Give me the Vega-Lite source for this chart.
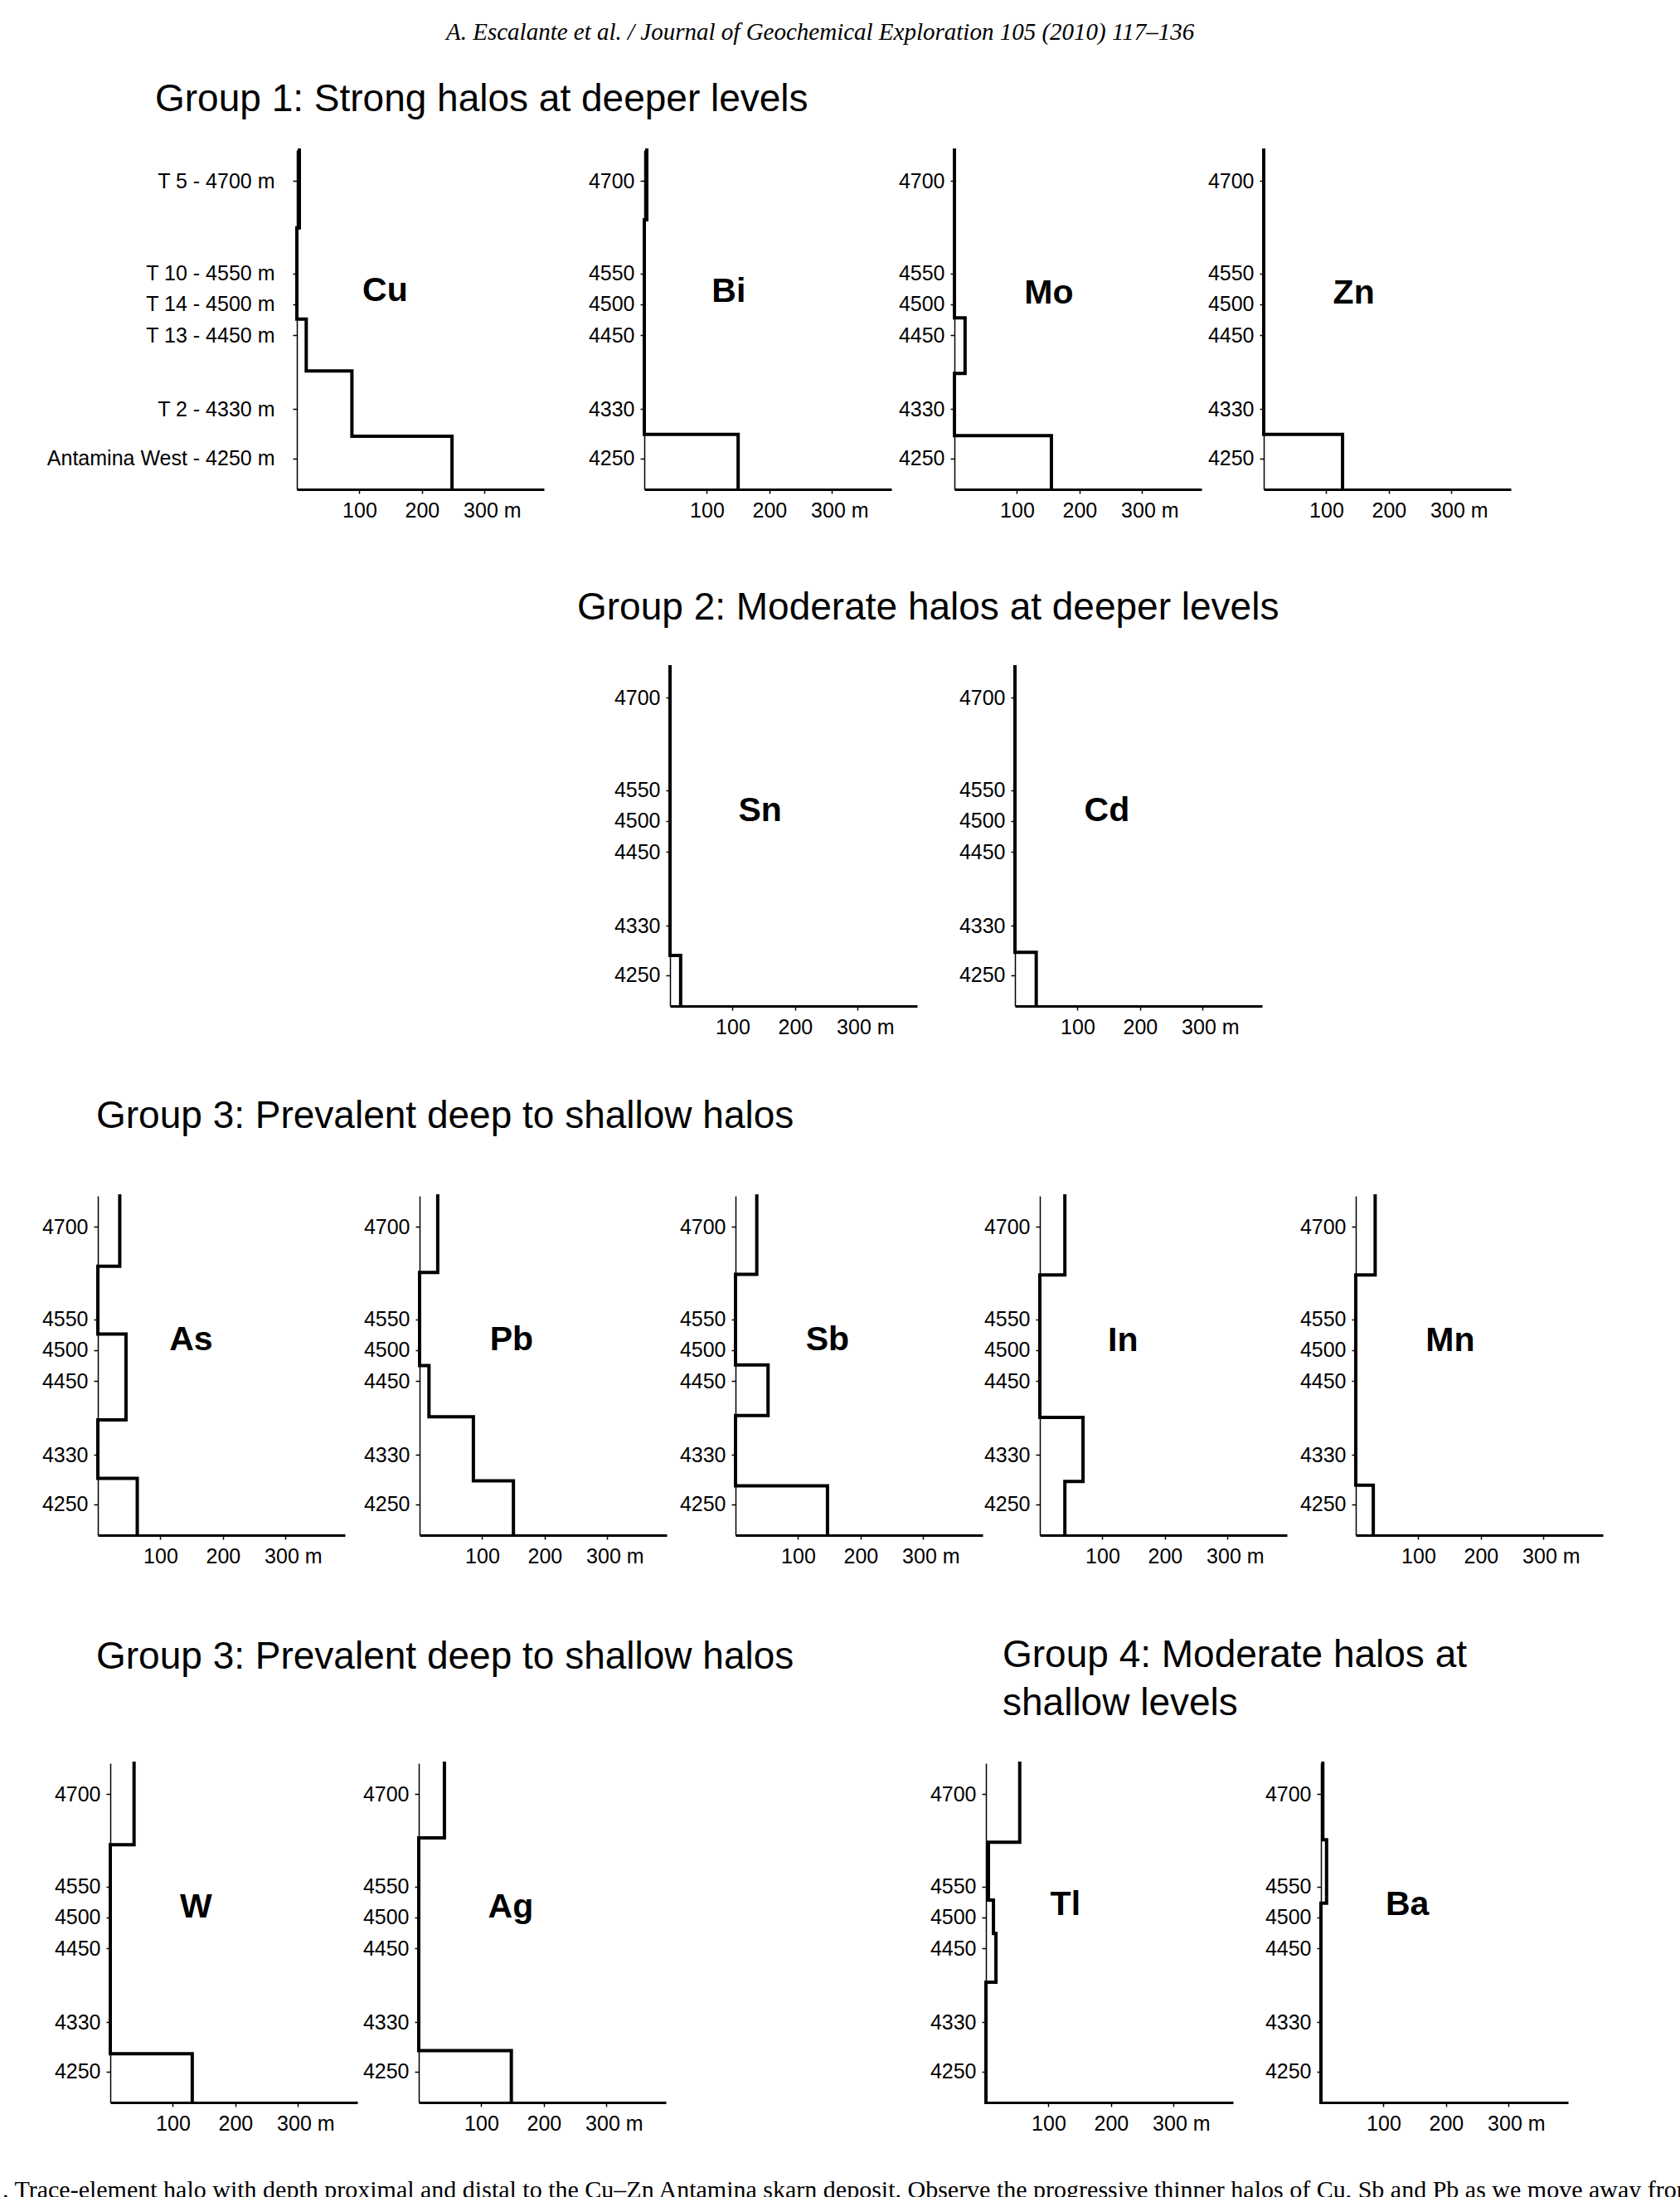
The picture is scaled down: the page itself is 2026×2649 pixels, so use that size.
{
"$schema": "https://vega.github.io/schema/vega-lite/v6.json",
"background": "white",
"padding": {"left": 0, "top": 25, "right": 0, "bottom": 0},
"title": {"text": "A. Escalante et al. / Journal of Geochemical Exploration 105 (2010) 117–136", "font": "Liberation Serif", "fontStyle": "italic", "fontSize": 29, "anchor": "start", "dx": 538, "offset": 43},
"datasets": {
"halo": [
{"el":"Cu","i":0,"w":4,"elev":4750},{"el":"Cu","i":1,"w":4,"elev":4624},{"el":"Cu","i":2,"w":0,"elev":4624},{"el":"Cu","i":3,"w":0,"elev":4476},{"el":"Cu","i":4,"w":15,"elev":4476},{"el":"Cu","i":5,"w":15,"elev":4392},{"el":"Cu","i":6,"w":88,"elev":4392},{"el":"Cu","i":7,"w":88,"elev":4286},{"el":"Cu","i":8,"w":248,"elev":4286},{"el":"Cu","i":9,"w":248,"elev":4200},
{"el":"Bi","i":0,"w":4,"elev":4750},{"el":"Bi","i":1,"w":4,"elev":4637},{"el":"Bi","i":2,"w":0,"elev":4637},{"el":"Bi","i":3,"w":0,"elev":4289},{"el":"Bi","i":4,"w":150,"elev":4289},{"el":"Bi","i":5,"w":150,"elev":4200},
{"el":"Mo","i":0,"w":0,"elev":4750},{"el":"Mo","i":1,"w":0,"elev":4478},{"el":"Mo","i":2,"w":17,"elev":4478},{"el":"Mo","i":3,"w":17,"elev":4388},{"el":"Mo","i":4,"w":0,"elev":4388},{"el":"Mo","i":5,"w":0,"elev":4287},{"el":"Mo","i":6,"w":155,"elev":4287},{"el":"Mo","i":7,"w":155,"elev":4200},
{"el":"Zn","i":0,"w":0,"elev":4750},{"el":"Zn","i":1,"w":0,"elev":4289},{"el":"Zn","i":2,"w":126,"elev":4289},{"el":"Zn","i":3,"w":126,"elev":4200},
{"el":"Sn","i":0,"w":0,"elev":4750},{"el":"Sn","i":1,"w":0,"elev":4282},{"el":"Sn","i":2,"w":17,"elev":4282},{"el":"Sn","i":3,"w":17,"elev":4200},
{"el":"Cd","i":0,"w":0,"elev":4750},{"el":"Cd","i":1,"w":0,"elev":4287},{"el":"Cd","i":2,"w":34,"elev":4287},{"el":"Cd","i":3,"w":34,"elev":4200},
{"el":"As","i":0,"w":35,"elev":4750},{"el":"As","i":1,"w":35,"elev":4636},{"el":"As","i":2,"w":0,"elev":4636},{"el":"As","i":3,"w":0,"elev":4526},{"el":"As","i":4,"w":45,"elev":4526},{"el":"As","i":5,"w":45,"elev":4387},{"el":"As","i":6,"w":0,"elev":4387},{"el":"As","i":7,"w":0,"elev":4292},{"el":"As","i":8,"w":63,"elev":4292},{"el":"As","i":9,"w":63,"elev":4200},
{"el":"Pb","i":0,"w":29,"elev":4750},{"el":"Pb","i":1,"w":29,"elev":4626},{"el":"Pb","i":2,"w":0,"elev":4626},{"el":"Pb","i":3,"w":0,"elev":4475},{"el":"Pb","i":4,"w":15,"elev":4475},{"el":"Pb","i":5,"w":15,"elev":4392},{"el":"Pb","i":6,"w":86,"elev":4392},{"el":"Pb","i":7,"w":86,"elev":4288},{"el":"Pb","i":8,"w":150,"elev":4288},{"el":"Pb","i":9,"w":150,"elev":4200},
{"el":"Sb","i":0,"w":34,"elev":4750},{"el":"Sb","i":1,"w":34,"elev":4623},{"el":"Sb","i":2,"w":0,"elev":4623},{"el":"Sb","i":3,"w":0,"elev":4476},{"el":"Sb","i":4,"w":52,"elev":4476},{"el":"Sb","i":5,"w":52,"elev":4394},{"el":"Sb","i":6,"w":0,"elev":4394},{"el":"Sb","i":7,"w":0,"elev":4280},{"el":"Sb","i":8,"w":147,"elev":4280},{"el":"Sb","i":9,"w":147,"elev":4200},
{"el":"In","i":0,"w":40,"elev":4750},{"el":"In","i":1,"w":40,"elev":4622},{"el":"In","i":2,"w":0,"elev":4622},{"el":"In","i":3,"w":0,"elev":4391},{"el":"In","i":4,"w":69,"elev":4391},{"el":"In","i":5,"w":69,"elev":4287},{"el":"In","i":6,"w":40,"elev":4287},{"el":"In","i":7,"w":40,"elev":4200},
{"el":"Mn","i":0,"w":31,"elev":4750},{"el":"Mn","i":1,"w":31,"elev":4622},{"el":"Mn","i":2,"w":0,"elev":4622},{"el":"Mn","i":3,"w":0,"elev":4281},{"el":"Mn","i":4,"w":28,"elev":4281},{"el":"Mn","i":5,"w":28,"elev":4200},
{"el":"W","i":0,"w":38,"elev":4750},{"el":"W","i":1,"w":38,"elev":4618},{"el":"W","i":2,"w":0,"elev":4618},{"el":"W","i":3,"w":0,"elev":4279},{"el":"W","i":4,"w":131,"elev":4279},{"el":"W","i":5,"w":131,"elev":4200},
{"el":"Ag","i":0,"w":41,"elev":4750},{"el":"Ag","i":1,"w":41,"elev":4629},{"el":"Ag","i":2,"w":0,"elev":4629},{"el":"Ag","i":3,"w":0,"elev":4284},{"el":"Ag","i":4,"w":148,"elev":4284},{"el":"Ag","i":5,"w":148,"elev":4200},
{"el":"Tl","i":0,"w":54,"elev":4750},{"el":"Tl","i":1,"w":54,"elev":4622},{"el":"Tl","i":2,"w":4,"elev":4622},{"el":"Tl","i":3,"w":4,"elev":4528},{"el":"Tl","i":4,"w":12,"elev":4528},{"el":"Tl","i":5,"w":12,"elev":4474},{"el":"Tl","i":6,"w":16,"elev":4474},{"el":"Tl","i":7,"w":16,"elev":4395},{"el":"Tl","i":8,"w":0,"elev":4395},{"el":"Tl","i":9,"w":0,"elev":4200},
{"el":"Ba","i":0,"w":3,"elev":4750},{"el":"Ba","i":1,"w":3,"elev":4626},{"el":"Ba","i":2,"w":9,"elev":4626},{"el":"Ba","i":3,"w":9,"elev":4523},{"el":"Ba","i":4,"w":0,"elev":4523},{"el":"Ba","i":5,"w":0,"elev":4200}
],
"labels": [{"el":"Cu"},{"el":"Bi"},{"el":"Mo"},{"el":"Zn"},{"el":"Sn"},{"el":"Cd"},{"el":"As"},{"el":"Pb"},{"el":"Sb"},{"el":"In"},{"el":"Mn"},{"el":"W"},{"el":"Ag"},{"el":"Tl"},{"el":"Ba"}]
},
"spacing": 0,
"vconcat": [
{"title": {"text": "Group 1: Strong halos at deeper levels", "dx": 187, "offset": 29}, "spacing": 0, "hconcat": [
{"width": 1, "height": 1, "data": {"values": []}, "mark": "point"},
{"width": 298, "height": 409, "layer": [
{"data": {"name": "halo"}, "transform": [{"filter": "datum.el === 'Cu'"}], "mark": {"type": "line", "color": "black", "strokeWidth": 4, "strokeJoin": "miter", "strokeCap": "square"},
"encoding": {"x": {"field": "w", "type": "quantitative", "scale": {"domain": [0, 395], "nice": false}, "axis": {"title": null, "values": [100, 200, 300], "labelExpr": "datum.value === 300 ? '300 m' : datum.label", "labelOffset": {"condition": {"test": "datum.value === 300", "value": 9}, "value": 0}, "minExtent": 120, "maxExtent": 120}},
"y": {"field": "elev", "type": "quantitative", "scale": {"domain": [4200, 4750], "nice": false, "zero": false}, "axis": {"title": null, "format": "d", "values": [4250, 4330, 4450, 4500, 4550, 4700], "labelPadding": 22, "labelLimit": 400, "labelExpr": "datum.value === 4700 ? 'T 5 - 4700 m' : datum.value === 4550 ? 'T 10 - 4550 m' : datum.value === 4500 ? 'T 14 - 4500 m' : datum.value === 4450 ? 'T 13 - 4450 m' : datum.value === 4330 ? 'T 2 - 4330 m' : 'Antamina West - 4250 m'", "minExtent": 357, "maxExtent": 357}},
"order": {"field": "i", "type": "quantitative"}}},
{"data": {"name": "labels"}, "transform": [{"filter": "datum.el === 'Cu'"}], "mark": {"type": "text", "font": "Liberation Sans", "fontWeight": "bold", "fontSize": 41, "align": "center", "baseline": "middle", "color": "black"},
"encoding": {"x": {"datum": 141}, "y": {"datum": 4522}, "text": {"field": "el"}}}
]},
{"width": 298, "height": 409, "layer": [
{"data": {"name": "halo"}, "transform": [{"filter": "datum.el === 'Bi'"}], "mark": {"type": "line", "color": "black", "strokeWidth": 4, "strokeJoin": "miter", "strokeCap": "square"},
"encoding": {"x": {"field": "w", "type": "quantitative", "scale": {"domain": [0, 395], "nice": false}, "axis": {"title": null, "values": [100, 200, 300], "labelExpr": "datum.value === 300 ? '300 m' : datum.label", "labelOffset": {"condition": {"test": "datum.value === 300", "value": 9}, "value": 0}, "minExtent": 120, "maxExtent": 120}},
"y": {"field": "elev", "type": "quantitative", "scale": {"domain": [4200, 4750], "nice": false, "zero": false}, "axis": {"title": null, "format": "d", "values": [4250, 4330, 4450, 4500, 4550, 4700], "minExtent": 121, "maxExtent": 121}},
"order": {"field": "i", "type": "quantitative"}}},
{"data": {"name": "labels"}, "transform": [{"filter": "datum.el === 'Bi'"}], "mark": {"type": "text", "font": "Liberation Sans", "fontWeight": "bold", "fontSize": 41, "align": "center", "baseline": "middle", "color": "black"},
"encoding": {"x": {"datum": 135}, "y": {"datum": 4520}, "text": {"field": "el"}}}
]},
{"width": 298, "height": 409, "layer": [
{"data": {"name": "halo"}, "transform": [{"filter": "datum.el === 'Mo'"}], "mark": {"type": "line", "color": "black", "strokeWidth": 4, "strokeJoin": "miter", "strokeCap": "square"},
"encoding": {"x": {"field": "w", "type": "quantitative", "scale": {"domain": [0, 395], "nice": false}, "axis": {"title": null, "values": [100, 200, 300], "labelExpr": "datum.value === 300 ? '300 m' : datum.label", "labelOffset": {"condition": {"test": "datum.value === 300", "value": 9}, "value": 0}, "minExtent": 120, "maxExtent": 120}},
"y": {"field": "elev", "type": "quantitative", "scale": {"domain": [4200, 4750], "nice": false, "zero": false}, "axis": {"title": null, "format": "d", "values": [4250, 4330, 4450, 4500, 4550, 4700], "minExtent": 76, "maxExtent": 76}},
"order": {"field": "i", "type": "quantitative"}}},
{"data": {"name": "labels"}, "transform": [{"filter": "datum.el === 'Mo'"}], "mark": {"type": "text", "font": "Liberation Sans", "fontWeight": "bold", "fontSize": 41, "align": "center", "baseline": "middle", "color": "black"},
"encoding": {"x": {"datum": 151}, "y": {"datum": 4518}, "text": {"field": "el"}}}
]},
{"width": 298, "height": 409, "layer": [
{"data": {"name": "halo"}, "transform": [{"filter": "datum.el === 'Zn'"}], "mark": {"type": "line", "color": "black", "strokeWidth": 4, "strokeJoin": "miter", "strokeCap": "square"},
"encoding": {"x": {"field": "w", "type": "quantitative", "scale": {"domain": [0, 395], "nice": false}, "axis": {"title": null, "values": [100, 200, 300], "labelExpr": "datum.value === 300 ? '300 m' : datum.label", "labelOffset": {"condition": {"test": "datum.value === 300", "value": 9}, "value": 0}, "minExtent": 120, "maxExtent": 120}},
"y": {"field": "elev", "type": "quantitative", "scale": {"domain": [4200, 4750], "nice": false, "zero": false}, "axis": {"title": null, "format": "d", "values": [4250, 4330, 4450, 4500, 4550, 4700], "minExtent": 75, "maxExtent": 75}},
"order": {"field": "i", "type": "quantitative"}}},
{"data": {"name": "labels"}, "transform": [{"filter": "datum.el === 'Zn'"}], "mark": {"type": "text", "font": "Liberation Sans", "fontWeight": "bold", "fontSize": 41, "align": "center", "baseline": "middle", "color": "black"},
"encoding": {"x": {"datum": 144}, "y": {"datum": 4518}, "text": {"field": "el"}}}
]}
]},
{"title": {"text": "Group 2: Moderate halos at deeper levels", "dx": 696, "offset": 39}, "spacing": 0, "hconcat": [
{"width": 690, "height": 1, "data": {"values": []}, "mark": "point"},
{"width": 298, "height": 409, "layer": [
{"data": {"name": "halo"}, "transform": [{"filter": "datum.el === 'Sn'"}], "mark": {"type": "line", "color": "black", "strokeWidth": 4, "strokeJoin": "miter", "strokeCap": "square"},
"encoding": {"x": {"field": "w", "type": "quantitative", "scale": {"domain": [0, 395], "nice": false}, "axis": {"title": null, "values": [100, 200, 300], "labelExpr": "datum.value === 300 ? '300 m' : datum.label", "labelOffset": {"condition": {"test": "datum.value === 300", "value": 9}, "value": 0}, "minExtent": 110, "maxExtent": 110}},
"y": {"field": "elev", "type": "quantitative", "scale": {"domain": [4200, 4750], "nice": false, "zero": false}, "axis": {"title": null, "format": "d", "values": [4250, 4330, 4450, 4500, 4550, 4700], "minExtent": 118, "maxExtent": 118}},
"order": {"field": "i", "type": "quantitative"}}},
{"data": {"name": "labels"}, "transform": [{"filter": "datum.el === 'Sn'"}], "mark": {"type": "text", "font": "Liberation Sans", "fontWeight": "bold", "fontSize": 41, "align": "center", "baseline": "middle", "color": "black"},
"encoding": {"x": {"datum": 144}, "y": {"datum": 4516}, "text": {"field": "el"}}}
]},
{"width": 298, "height": 409, "layer": [
{"data": {"name": "halo"}, "transform": [{"filter": "datum.el === 'Cd'"}], "mark": {"type": "line", "color": "black", "strokeWidth": 4, "strokeJoin": "miter", "strokeCap": "square"},
"encoding": {"x": {"field": "w", "type": "quantitative", "scale": {"domain": [0, 395], "nice": false}, "axis": {"title": null, "values": [100, 200, 300], "labelExpr": "datum.value === 300 ? '300 m' : datum.label", "labelOffset": {"condition": {"test": "datum.value === 300", "value": 9}, "value": 0}, "minExtent": 110, "maxExtent": 110}},
"y": {"field": "elev", "type": "quantitative", "scale": {"domain": [4200, 4750], "nice": false, "zero": false}, "axis": {"title": null, "format": "d", "values": [4250, 4330, 4450, 4500, 4550, 4700], "minExtent": 118, "maxExtent": 118}},
"order": {"field": "i", "type": "quantitative"}}},
{"data": {"name": "labels"}, "transform": [{"filter": "datum.el === 'Cd'"}], "mark": {"type": "text", "font": "Liberation Sans", "fontWeight": "bold", "fontSize": 41, "align": "center", "baseline": "middle", "color": "black"},
"encoding": {"x": {"datum": 147}, "y": {"datum": 4516}, "text": {"field": "el"}}}
]}
]},
{"title": {"text": "Group 3: Prevalent deep to shallow halos", "dx": 116, "offset": 64}, "spacing": 0, "hconcat": [
{"width": 1, "height": 1, "data": {"values": []}, "mark": "point"},
{"width": 298, "height": 409, "layer": [
{"data": {"name": "halo"}, "transform": [{"filter": "datum.el === 'As'"}], "mark": {"type": "line", "color": "black", "strokeWidth": 4, "strokeJoin": "miter", "strokeCap": "square"},
"encoding": {"x": {"field": "w", "type": "quantitative", "scale": {"domain": [0, 395], "nice": false}, "axis": {"title": null, "values": [100, 200, 300], "labelExpr": "datum.value === 300 ? '300 m' : datum.label", "labelOffset": {"condition": {"test": "datum.value === 300", "value": 9}, "value": 0}, "minExtent": 122, "maxExtent": 122}},
"y": {"field": "elev", "type": "quantitative", "scale": {"domain": [4200, 4750], "nice": false, "zero": false}, "axis": {"title": null, "format": "d", "values": [4250, 4330, 4450, 4500, 4550, 4700], "minExtent": 117, "maxExtent": 117}},
"order": {"field": "i", "type": "quantitative"}}},
{"data": {"name": "labels"}, "transform": [{"filter": "datum.el === 'As'"}], "mark": {"type": "text", "font": "Liberation Sans", "fontWeight": "bold", "fontSize": 41, "align": "center", "baseline": "middle", "color": "black"},
"encoding": {"x": {"datum": 149}, "y": {"datum": 4516}, "text": {"field": "el"}}}
]},
{"width": 298, "height": 409, "layer": [
{"data": {"name": "halo"}, "transform": [{"filter": "datum.el === 'Pb'"}], "mark": {"type": "line", "color": "black", "strokeWidth": 4, "strokeJoin": "miter", "strokeCap": "square"},
"encoding": {"x": {"field": "w", "type": "quantitative", "scale": {"domain": [0, 395], "nice": false}, "axis": {"title": null, "values": [100, 200, 300], "labelExpr": "datum.value === 300 ? '300 m' : datum.label", "labelOffset": {"condition": {"test": "datum.value === 300", "value": 9}, "value": 0}, "minExtent": 122, "maxExtent": 122}},
"y": {"field": "elev", "type": "quantitative", "scale": {"domain": [4200, 4750], "nice": false, "zero": false}, "axis": {"title": null, "format": "d", "values": [4250, 4330, 4450, 4500, 4550, 4700], "minExtent": 90, "maxExtent": 90}},
"order": {"field": "i", "type": "quantitative"}}},
{"data": {"name": "labels"}, "transform": [{"filter": "datum.el === 'Pb'"}], "mark": {"type": "text", "font": "Liberation Sans", "fontWeight": "bold", "fontSize": 41, "align": "center", "baseline": "middle", "color": "black"},
"encoding": {"x": {"datum": 147}, "y": {"datum": 4516}, "text": {"field": "el"}}}
]},
{"width": 298, "height": 409, "layer": [
{"data": {"name": "halo"}, "transform": [{"filter": "datum.el === 'Sb'"}], "mark": {"type": "line", "color": "black", "strokeWidth": 4, "strokeJoin": "miter", "strokeCap": "square"},
"encoding": {"x": {"field": "w", "type": "quantitative", "scale": {"domain": [0, 395], "nice": false}, "axis": {"title": null, "values": [100, 200, 300], "labelExpr": "datum.value === 300 ? '300 m' : datum.label", "labelOffset": {"condition": {"test": "datum.value === 300", "value": 9}, "value": 0}, "minExtent": 122, "maxExtent": 122}},
"y": {"field": "elev", "type": "quantitative", "scale": {"domain": [4200, 4750], "nice": false, "zero": false}, "axis": {"title": null, "format": "d", "values": [4250, 4330, 4450, 4500, 4550, 4700], "minExtent": 83, "maxExtent": 83}},
"order": {"field": "i", "type": "quantitative"}}},
{"data": {"name": "labels"}, "transform": [{"filter": "datum.el === 'Sb'"}], "mark": {"type": "text", "font": "Liberation Sans", "fontWeight": "bold", "fontSize": 41, "align": "center", "baseline": "middle", "color": "black"},
"encoding": {"x": {"datum": 147}, "y": {"datum": 4516}, "text": {"field": "el"}}}
]},
{"width": 298, "height": 409, "layer": [
{"data": {"name": "halo"}, "transform": [{"filter": "datum.el === 'In'"}], "mark": {"type": "line", "color": "black", "strokeWidth": 4, "strokeJoin": "miter", "strokeCap": "square"},
"encoding": {"x": {"field": "w", "type": "quantitative", "scale": {"domain": [0, 395], "nice": false}, "axis": {"title": null, "values": [100, 200, 300], "labelExpr": "datum.value === 300 ? '300 m' : datum.label", "labelOffset": {"condition": {"test": "datum.value === 300", "value": 9}, "value": 0}, "minExtent": 122, "maxExtent": 122}},
"y": {"field": "elev", "type": "quantitative", "scale": {"domain": [4200, 4750], "nice": false, "zero": false}, "axis": {"title": null, "format": "d", "values": [4250, 4330, 4450, 4500, 4550, 4700], "minExtent": 69, "maxExtent": 69}},
"order": {"field": "i", "type": "quantitative"}}},
{"data": {"name": "labels"}, "transform": [{"filter": "datum.el === 'In'"}], "mark": {"type": "text", "font": "Liberation Sans", "fontWeight": "bold", "fontSize": 41, "align": "center", "baseline": "middle", "color": "black"},
"encoding": {"x": {"datum": 133}, "y": {"datum": 4514}, "text": {"field": "el"}}}
]},
{"width": 298, "height": 409, "layer": [
{"data": {"name": "halo"}, "transform": [{"filter": "datum.el === 'Mn'"}], "mark": {"type": "line", "color": "black", "strokeWidth": 4, "strokeJoin": "miter", "strokeCap": "square"},
"encoding": {"x": {"field": "w", "type": "quantitative", "scale": {"domain": [0, 395], "nice": false}, "axis": {"title": null, "values": [100, 200, 300], "labelExpr": "datum.value === 300 ? '300 m' : datum.label", "labelOffset": {"condition": {"test": "datum.value === 300", "value": 9}, "value": 0}, "minExtent": 122, "maxExtent": 122}},
"y": {"field": "elev", "type": "quantitative", "scale": {"domain": [4200, 4750], "nice": false, "zero": false}, "axis": {"title": null, "format": "d", "values": [4250, 4330, 4450, 4500, 4550, 4700], "minExtent": 83, "maxExtent": 83}},
"order": {"field": "i", "type": "quantitative"}}},
{"data": {"name": "labels"}, "transform": [{"filter": "datum.el === 'Mn'"}], "mark": {"type": "text", "font": "Liberation Sans", "fontWeight": "bold", "fontSize": 41, "align": "center", "baseline": "middle", "color": "black"},
"encoding": {"x": {"datum": 151}, "y": {"datum": 4514}, "text": {"field": "el"}}}
]}
]},
{"title": {"text": ". Trace-element halo with depth proximal and distal to the Cu–Zn Antamina skarn deposit. Observe the progressive thinner halos of Cu, Sb and Pb as we move away from the deposit.", "orient": "bottom", "font": "Liberation Serif", "fontSize": 30, "dx": 3, "offset": 46}, "spacing": 0, "hconcat": [
{"title": {"text": "Group 3: Prevalent deep to shallow halos", "dx": 116, "offset": 96}, "spacing": 0, "hconcat": [
{"width": 1, "height": 1, "data": {"values": []}, "mark": "point"},
{"width": 298, "height": 409, "layer": [
{"data": {"name": "halo"}, "transform": [{"filter": "datum.el === 'W'"}], "mark": {"type": "line", "color": "black", "strokeWidth": 4, "strokeJoin": "miter", "strokeCap": "square"},
"encoding": {"x": {"field": "w", "type": "quantitative", "scale": {"domain": [0, 395], "nice": false}, "axis": {"title": null, "values": [100, 200, 300], "labelExpr": "datum.value === 300 ? '300 m' : datum.label", "labelOffset": {"condition": {"test": "datum.value === 300", "value": 9}, "value": 0}, "minExtent": 45, "maxExtent": 45}},
"y": {"field": "elev", "type": "quantitative", "scale": {"domain": [4200, 4750], "nice": false, "zero": false}, "axis": {"title": null, "format": "d", "values": [4250, 4330, 4450, 4500, 4550, 4700], "minExtent": 132, "maxExtent": 132}},
"order": {"field": "i", "type": "quantitative"}}},
{"data": {"name": "labels"}, "transform": [{"filter": "datum.el === 'W'"}], "mark": {"type": "text", "font": "Liberation Sans", "fontWeight": "bold", "fontSize": 41, "align": "center", "baseline": "middle", "color": "black"},
"encoding": {"x": {"datum": 137}, "y": {"datum": 4516}, "text": {"field": "el"}}}
]},
{"width": 298, "height": 409, "layer": [
{"data": {"name": "halo"}, "transform": [{"filter": "datum.el === 'Ag'"}], "mark": {"type": "line", "color": "black", "strokeWidth": 4, "strokeJoin": "miter", "strokeCap": "square"},
"encoding": {"x": {"field": "w", "type": "quantitative", "scale": {"domain": [0, 395], "nice": false}, "axis": {"title": null, "values": [100, 200, 300], "labelExpr": "datum.value === 300 ? '300 m' : datum.label", "labelOffset": {"condition": {"test": "datum.value === 300", "value": 9}, "value": 0}, "minExtent": 45, "maxExtent": 45}},
"y": {"field": "elev", "type": "quantitative", "scale": {"domain": [4200, 4750], "nice": false, "zero": false}, "axis": {"title": null, "format": "d", "values": [4250, 4330, 4450, 4500, 4550, 4700], "minExtent": 74, "maxExtent": 74}},
"order": {"field": "i", "type": "quantitative"}}},
{"data": {"name": "labels"}, "transform": [{"filter": "datum.el === 'Ag'"}], "mark": {"type": "text", "font": "Liberation Sans", "fontWeight": "bold", "fontSize": 41, "align": "center", "baseline": "middle", "color": "black"},
"encoding": {"x": {"datum": 147}, "y": {"datum": 4516}, "text": {"field": "el"}}}
]}
]},
{"title": {"text": ["Group 4: Moderate halos at", "shallow levels"], "dx": 251, "lineHeight": 58, "offset": 40}, "spacing": 0, "hconcat": [
{"width": 298, "height": 409, "layer": [
{"data": {"name": "halo"}, "transform": [{"filter": "datum.el === 'Tl'"}], "mark": {"type": "line", "color": "black", "strokeWidth": 4, "strokeJoin": "miter", "strokeCap": "square"},
"encoding": {"x": {"field": "w", "type": "quantitative", "scale": {"domain": [0, 395], "nice": false}, "axis": {"title": null, "values": [100, 200, 300], "labelExpr": "datum.value === 300 ? '300 m' : datum.label", "labelOffset": {"condition": {"test": "datum.value === 300", "value": 9}, "value": 0}, "minExtent": 45, "maxExtent": 45}},
"y": {"field": "elev", "type": "quantitative", "scale": {"domain": [4200, 4750], "nice": false, "zero": false}, "axis": {"title": null, "format": "d", "values": [4250, 4330, 4450, 4500, 4550, 4700], "minExtent": 231, "maxExtent": 231}},
"order": {"field": "i", "type": "quantitative"}}},
{"data": {"name": "labels"}, "transform": [{"filter": "datum.el === 'Tl'"}], "mark": {"type": "text", "font": "Liberation Sans", "fontWeight": "bold", "fontSize": 41, "align": "center", "baseline": "middle", "color": "black"},
"encoding": {"x": {"datum": 127}, "y": {"datum": 4520}, "text": {"field": "el"}}}
]},
{"width": 298, "height": 409, "layer": [
{"data": {"name": "halo"}, "transform": [{"filter": "datum.el === 'Ba'"}], "mark": {"type": "line", "color": "black", "strokeWidth": 4, "strokeJoin": "miter", "strokeCap": "square"},
"encoding": {"x": {"field": "w", "type": "quantitative", "scale": {"domain": [0, 395], "nice": false}, "axis": {"title": null, "values": [100, 200, 300], "labelExpr": "datum.value === 300 ? '300 m' : datum.label", "labelOffset": {"condition": {"test": "datum.value === 300", "value": 9}, "value": 0}, "minExtent": 45, "maxExtent": 45}},
"y": {"field": "elev", "type": "quantitative", "scale": {"domain": [4200, 4750], "nice": false, "zero": false}, "axis": {"title": null, "format": "d", "values": [4250, 4330, 4450, 4500, 4550, 4700], "minExtent": 106, "maxExtent": 106}},
"order": {"field": "i", "type": "quantitative"}}},
{"data": {"name": "labels"}, "transform": [{"filter": "datum.el === 'Ba'"}], "mark": {"type": "text", "font": "Liberation Sans", "fontWeight": "bold", "fontSize": 41, "align": "center", "baseline": "middle", "color": "black"},
"encoding": {"x": {"datum": 138}, "y": {"datum": 4520}, "text": {"field": "el"}}}
]}
]}
]}
],
"config": {
"view": {"stroke": null},
"axis": {"grid": false, "domainColor": "black", "tickColor": "black", "labelColor": "black", "labelFont": "Liberation Sans", "labelFontSize": 25, "tickSize": 5, "tickWidth": 1.5, "labelOverlap": false},
"axisX": {"domainWidth": 3, "labelPadding": 8, "labelFlush": false},
"axisY": {"domainWidth": 1.5, "labelPadding": 7},
"title": {"font": "Liberation Sans", "fontSize": 46, "fontWeight": "normal", "anchor": "start", "color": "black"}
}
}
